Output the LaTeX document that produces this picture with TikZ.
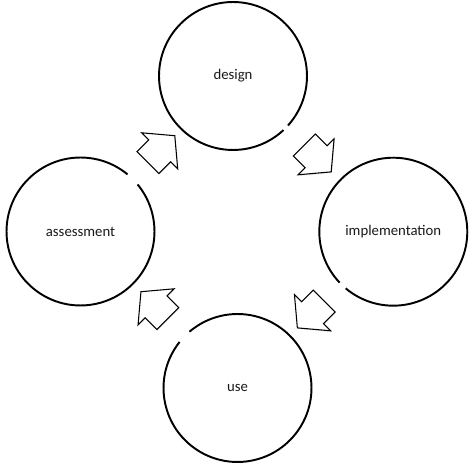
\documentclass[tikz,border=0pt]{standalone}
\usepackage{fontspec}
\setmainfont{Carlito}
\usetikzlibrary{shapes.arrows,shadows,calc}

\begin{document}
\begin{tikzpicture}[x=0.02cm, y=0.02cm,
    stage/.style={circle, minimum size=2.96cm, inner sep=0pt, text=black!90,
      font=\fontsize{8.4}{10}\selectfont},
    ring/.style={line width=1.1pt},
    cyclearrow/.style={single arrow, draw, line width=0.6pt, fill=white,
      minimum height=0.76cm, minimum width=1cm, inner xsep=0pt, inner ysep=0.3cm,
      single arrow head extend=0.2cm, single arrow tip angle=100,
      drop shadow={opacity=0.25, shadow xshift=0.4pt, shadow yshift=-0.6pt}}]
    \useasboundingbox (0,0) rectangle (474,463);

    % the four stages
    \node[stage] (design) at (233,387) {design};
    \node[stage] (implementation) at (393.3,231.3) {implementation};
    \node[stage] (use) at (237.5,75) {use};
    \node[stage] (assessment) at (80.5,231.5) {assessment};

    % rings, open where the next arrow leaves
    \draw[ring] ([shift={(-42:1.48cm)}]design.center) arc[start angle=-42, end angle=313, radius=1.48cm];
    \draw[ring] ([shift={(230:1.48cm)}]implementation.center) arc[start angle=230, end angle=583.5, radius=1.48cm];
    \draw[ring] ([shift={(141.5:1.48cm)}]use.center) arc[start angle=141.5, end angle=490.5, radius=1.48cm];
    \draw[ring] ([shift={(50.5:1.48cm)}]assessment.center) arc[start angle=50.5, end angle=399.5, radius=1.48cm];

    % arrows between the stages
    \node[cyclearrow, rotate=-45] (d-i) at ($(design)!0.5!(implementation)$) {};
    \node[cyclearrow, rotate=-135] (i-u) at ($(implementation)!0.5!(use)$) {};
    \node[cyclearrow, rotate=135] (u-a) at ($(use)!0.5!(assessment)$) {};
    \node[cyclearrow, rotate=45] (a-d) at ($(assessment)!0.5!(design)$) {};
\end{tikzpicture}
\end{document}
